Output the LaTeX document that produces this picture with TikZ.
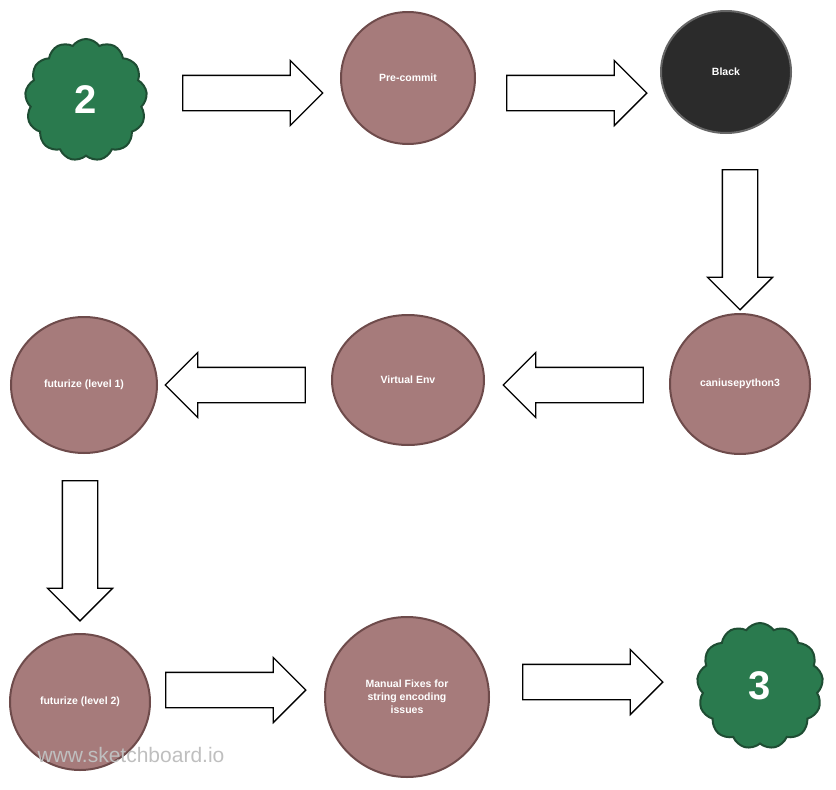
\documentclass[tikz,border=0pt]{standalone}
\usepackage{fontspec}
\setmainfont{Liberation Sans}
\usetikzlibrary{shapes.symbols,shapes.arrows,shapes.geometric}
\definecolor{rose}{HTML}{A67B7B}
\definecolor{roseline}{HTML}{6E4B4B}
\definecolor{grn}{HTML}{2A7A4E}
\definecolor{grnline}{HTML}{1E4D33}
\begin{document}
\begin{tikzpicture}[x=1pt,y=-1pt,
  bub/.style={ellipse,draw=roseline,line width=2pt,fill=rose,text=white,font=\bfseries\fontsize{10.5}{13}\selectfont,align=center,inner sep=0pt},
  cl/.style={cloud,cloud puffs=13,cloud puff arc=110,aspect=1,draw=grnline,line width=2pt,fill=grn,text=white,font=\bfseries\fontsize{40}{42}\selectfont,minimum width=122pt,minimum height=122pt},
  arr/.style={single arrow,draw=black,line width=1.3pt,fill=white,inner sep=17pt,single arrow head extend=15pt,minimum height=140pt}]
\useasboundingbox (0,0) rectangle (836,790);
\node[cl] (n2) at (86,100) {2};
\node[bub,minimum width=134pt,minimum height=132pt] (pc) at (408,78) {Pre-commit};
\node[bub,fill=black!83,draw=black!60,minimum width=130pt,minimum height=122pt] (bl) at (726,72) {Black};
\node[bub,minimum width=140pt,minimum height=140pt] (cu) at (740,384) {caniusepython3};
\node[bub,minimum width=152pt,minimum height=130pt] (ve) at (408,380) {Virtual Env};
\node[bub,minimum width=146pt,minimum height=136pt] (f1) at (84,385) {futurize (level 1)};
\node[bub,minimum width=140pt,minimum height=136pt] (f2) at (80,702) {futurize (level 2)};
\node[bub,minimum width=164pt,minimum height=160pt] (mf) at (407,697) {Manual Fixes for\\string encoding\\issues};
\node[cl,minimum width=126pt,minimum height=126pt] (n3) at (760,686) {3};
\node[arr] (a1) at (244,93) {};
\node[arr] (a2) at (568,93) {};
\node[arr,rotate=-90] (a3) at (740,231) {};
\node[arr,rotate=180] (a4) at (582,385) {};
\node[arr,rotate=180] (a5) at (244,385) {};
\node[arr,rotate=-90] (a6) at (80,542) {};
\node[arr] (a7) at (227,690) {};
\node[arr] (a8) at (584,682) {};
\node[text=black!25,font=\fontsize{21}{23}\selectfont] (wm) at (131,755) {www.sketchboard.io};
\end{tikzpicture}
\end{document}
